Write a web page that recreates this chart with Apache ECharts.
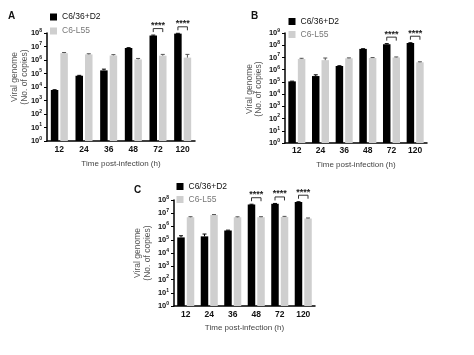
<!DOCTYPE html>
<html><head><meta charset="utf-8">
<script src="https://cdn.jsdelivr.net/npm/echarts@6/dist/echarts.min.js"></script>
<style>html,body{margin:0;padding:0;background:#fff}#c{width:474px;height:355px}</style>
</head><body><div id="c"></div>
<script>
const categories = ['12','24','36','48','72','120'];
const seriesNames = ['C6/36+D2','C6-L55'];
// Panel A
const blackA   = [6e3, 6.8e4, 1.7e5, 7.6e6, 6.5e7, 9e7];
const blackUpA = [6.3e3, 7.3e4, 2.1e5, 8.2e6, 7e7, 9.5e7];
const grayA    = [3.2e6, 2.6e6, 2.2e6, 1.1e6, 2.1e6, 1.5e6];
const grayUpA  = [3.6e6, 2.9e6, 2.5e6, 1.3e6, 2.6e6, 2.6e6];
const sigA = [4, 5];
// Panel B
const blackB   = [1.1e5, 3e5, 2e6, 5e7, 1.2e8, 1.5e8];
const blackUpB = [1.15e5, 3.8e5, 2.1e6, 5.2e7, 1.35e8, 1.6e8];
const grayB    = [7.5e6, 6e6, 8.5e6, 9e6, 1e7, 4e6];
const grayUpB  = [8.5e6, 9e6, 9.2e6, 9.8e6, 1.1e7, 4.4e6];
const sigB = [4, 5];
// Panel C
const blackC   = [1.5e5, 1.8e5, 5e5, 4.5e7, 5.2e7, 7e7];
const blackUpC = [2e5, 2.7e5, 5.3e5, 4.8e7, 5.5e7, 7.4e7];
const grayC    = [5e6, 7.5e6, 5e6, 5e6, 5.3e6, 4e6];
const grayUpC  = [5.5e6, 8e6, 5.4e6, 5.5e6, 5.8e6, 4.4e6];
const sigC = [3, 4, 5];
const yMaxA = 1e8, yMaxB = 1e9, yMaxC = 1e8;

const FONT = 'Liberation Sans, Arial, sans-serif';
const BW = 7.5, OFF = 4.75;

const panels = [
  {black: blackA, blackUp: blackUpA, gray: grayA, grayUp: grayUpA, sig: sigA, ymax: yMaxA,
   grid: {left: 47, top: 33, width: 148, height: 108}, legend: {left: 50, top: 12.5}, labelMargin: 4, nameGap: 19},
  {black: blackB, blackUp: blackUpB, gray: grayB, grayUp: grayUpB, sig: sigB, ymax: yMaxB,
   grid: {left: 285, top: 33, width: 142, height: 110}, legend: {left: 288.5, top: 17}, labelMargin: 3, nameGap: 18},
  {black: blackC, blackUp: blackUpC, gray: grayC, grayUp: grayUpC, sig: sigC, ymax: yMaxC,
   grid: {left: 174, top: 200, width: 141, height: 106}, legend: {left: 176.5, top: 182}, labelMargin: 4, nameGap: 18}
];

function errRender(offset, color) {
  return function (params, api) {
    const i = api.value(0);
    const top = api.coord([i, api.value(1)]);
    const up = api.coord([i, api.value(2)]);
    const x = top[0] + offset;
    return {type: 'group', children: [
      {type: 'line', shape: {x1: x, y1: top[1], x2: x, y2: up[1]}, style: {stroke: color, lineWidth: 1}},
      {type: 'line', shape: {x1: x - 2, y1: up[1], x2: x + 2, y2: up[1]}, style: {stroke: color, lineWidth: 1}}
    ]};
  };
}
function bracketRender(params, api) {
  const i = api.value(0);
  const c = api.coord([i, api.value(1)]);
  const y0 = c[1] - 6.5;
  const xL = c[0] - OFF, xR = c[0] + OFF;
  return {type: 'group', children: [
    {type: 'polyline', shape: {points: [[xL, y0 + 3.5], [xL, y0], [xR, y0], [xR, y0 + 3.5]]},
     style: {stroke: '#333', lineWidth: 1, fill: null}},
    {type: 'text', x: c[0], y: y0 - 3,
     style: {text: '****', fontSize: 9, fontWeight: 'bold', fontFamily: FONT, fill: '#222', align: 'center', verticalAlign: 'middle'}}
  ]};
}

const grids = [], xAxes = [], yAxes = [], legends = [], series = [];
panels.forEach((p, g) => {
  grids.push(Object.assign({containLabel: false}, p.grid));
  xAxes.push({
    type: 'category', gridIndex: g, data: categories,
    axisLine: {lineStyle: {color: '#000', width: 1.5}},
    axisTick: {show: false},
    axisLabel: {color: '#111', fontSize: 8.5, fontWeight: 'bold', fontFamily: FONT, margin: p.labelMargin},
    name: 'Time post-infection (h)', nameLocation: 'middle', nameGap: p.nameGap,
    nameTextStyle: {color: '#444', fontSize: 8, fontFamily: FONT}
  });
  yAxes.push({
    type: 'log', logBase: 10, gridIndex: g, min: 1, max: p.ymax,
    splitNumber: Math.round(Math.log10(p.ymax)),
    axisLine: {show: true, lineStyle: {color: '#000', width: 1.5}},
    axisTick: {show: true, length: 3, lineStyle: {color: '#000', width: 1}},
    splitLine: {show: false},
    axisLabel: {
      margin: 5, fontFamily: FONT,
      formatter: v => '{b|10}{s|' + Math.round(Math.log10(v)) + '}',
      rich: {
        b: {fontSize: 7.5, fontWeight: 'bold', color: '#111', fontFamily: FONT, lineHeight: 10},
        s: {fontSize: 5, fontWeight: 'bold', color: '#111', fontFamily: FONT, lineHeight: 6, verticalAlign: 'top'}
      }
    }
  });
  legends.push({
    orient: 'vertical', left: p.legend.left, top: p.legend.top, padding: 0,
    itemWidth: 7, itemHeight: 7, itemGap: g === 0 ? 5 : 4, icon: 'rect',
    selectedMode: false,
    textStyle: {fontSize: 8.5, fontFamily: FONT, lineHeight: 9},
    data: [
      {name: seriesNames[0], textStyle: {color: '#111'}},
      {name: seriesNames[1], textStyle: {color: '#777'}}
    ]
  });
  series.push({
    type: 'bar', name: seriesNames[0], xAxisIndex: g, yAxisIndex: g,
    data: p.black, barWidth: BW, itemStyle: {color: '#000'}
  });
  series.push({
    type: 'bar', name: seriesNames[1], xAxisIndex: g, yAxisIndex: g,
    data: p.gray, barWidth: BW, barGap: '27%', itemStyle: {color: '#cfcfcf'}
  });
  series.push({
    type: 'custom', xAxisIndex: g, yAxisIndex: g, z: 5, clip: false, silent: true,
    renderItem: errRender(-OFF, '#000'),
    data: p.black.map((v, i) => [i, v, p.blackUp[i]])
  });
  series.push({
    type: 'custom', xAxisIndex: g, yAxisIndex: g, z: 5, clip: false, silent: true,
    renderItem: errRender(OFF, '#555'),
    data: p.gray.map((v, i) => [i, v, p.grayUp[i]])
  });
  series.push({
    type: 'custom', xAxisIndex: g, yAxisIndex: g, z: 6, clip: false, silent: true,
    renderItem: bracketRender,
    data: p.sig.map(i => [i, Math.max(p.blackUp[i], p.grayUp[i])])
  });
});

const yName = 'Viral genome\n(No. of copies)';
const graphic = [
  {type: 'text', x: 8, y: 11, style: {text: 'A', font: 'bold 10px ' + FONT, fill: '#111'}},
  {type: 'text', x: 251, y: 11, style: {text: 'B', font: 'bold 10px ' + FONT, fill: '#111'}},
  {type: 'text', x: 134, y: 185, style: {text: 'C', font: 'bold 10px ' + FONT, fill: '#111'}},
  {type: 'text', x: 19.5, y: 77, rotation: Math.PI / 2,
   style: {text: yName, fontSize: 8.5, lineHeight: 9.5, fontFamily: FONT, fill: '#555', align: 'center', verticalAlign: 'middle'}},
  {type: 'text', x: 254, y: 89, rotation: Math.PI / 2,
   style: {text: yName, fontSize: 8.5, lineHeight: 9.5, fontFamily: FONT, fill: '#555', align: 'center', verticalAlign: 'middle'}},
  {type: 'text', x: 142.5, y: 253, rotation: Math.PI / 2,
   style: {text: yName, fontSize: 8.5, lineHeight: 9.5, fontFamily: FONT, fill: '#555', align: 'center', verticalAlign: 'middle'}}
];

const chart = echarts.init(document.getElementById('c'), null, {renderer: 'canvas'});
chart.setOption({
  animation: false,
  backgroundColor: '#fff',
  grid: grids, xAxis: xAxes, yAxis: yAxes, legend: legends, series: series, graphic: graphic
});
</script></body></html>
